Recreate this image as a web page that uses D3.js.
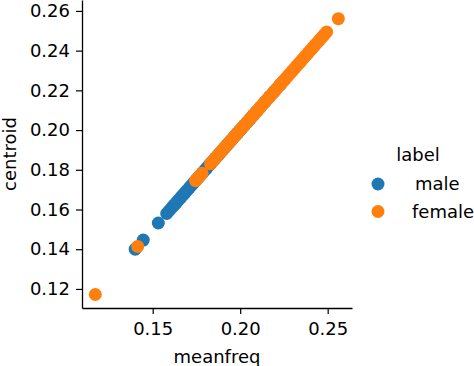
<!DOCTYPE html>
<html>
<head>
<meta charset="utf-8">
<script src="https://cdn.jsdelivr.net/npm/d3@7"></script>
<style>
  body { margin: 0; background: #fff; }
  text { font-family: "DejaVu Sans", sans-serif; fill: #000; }
  .tick text { font-size: 18px; }
  .axis-label { font-size: 18px; }
</style>
</head>
<body>
<div id="chart"></div>
<script>
// data: meanfreq / centroid per label (centroid equals meanfreq in this dataset)
const maleMeanfreq = [0.1400, 0.1446, 0.1532, 0.1580, 0.1595, 0.1610, 0.1622, 0.1635, 0.1648, 0.1660,
  0.1672, 0.1685, 0.1697, 0.1710, 0.1722, 0.1735, 0.1748, 0.1760, 0.1772, 0.1785, 0.1798, 0.1810,
  0.1823, 0.1835, 0.1848, 0.1860, 0.1873, 0.1885, 0.1898, 0.1910, 0.1923, 0.1935, 0.1948, 0.1960,
  0.1973, 0.1985, 0.1998, 0.2010, 0.2025, 0.2040, 0.2058, 0.2075, 0.2094, 0.2115, 0.2140, 0.2168,
  0.2195, 0.2230];
const maleCentroid = [0.1400, 0.1446, 0.1532, 0.1580, 0.1595, 0.1610, 0.1622, 0.1635, 0.1648, 0.1660,
  0.1672, 0.1685, 0.1697, 0.1710, 0.1722, 0.1735, 0.1748, 0.1760, 0.1772, 0.1785, 0.1798, 0.1810,
  0.1823, 0.1835, 0.1848, 0.1860, 0.1873, 0.1885, 0.1898, 0.1910, 0.1923, 0.1935, 0.1948, 0.1960,
  0.1973, 0.1985, 0.1998, 0.2010, 0.2025, 0.2040, 0.2058, 0.2075, 0.2094, 0.2115, 0.2140, 0.2168,
  0.2195, 0.2230];
const femaleMeanfreq = [0.1172, 0.1414, 0.1745, 0.1758, 0.1770, 0.1782, 0.1830, 0.1843, 0.1856, 0.1869,
  0.1882, 0.1895, 0.1908, 0.1921, 0.1934, 0.1947, 0.1960, 0.1973, 0.1986, 0.1999, 0.2012, 0.2025,
  0.2038, 0.2051, 0.2064, 0.2077, 0.2090, 0.2103, 0.2116, 0.2129, 0.2142, 0.2155, 0.2168, 0.2181,
  0.2194, 0.2207, 0.2220, 0.2233, 0.2246, 0.2259, 0.2272, 0.2285, 0.2298, 0.2311, 0.2324, 0.2337,
  0.2350, 0.2363, 0.2376, 0.2389, 0.2402, 0.2415, 0.2428, 0.2441, 0.2454, 0.2467, 0.2480, 0.2494,
  0.2561];
const femaleCentroid = [0.1172, 0.1414, 0.1745, 0.1758, 0.1770, 0.1782, 0.1830, 0.1843, 0.1856, 0.1869,
  0.1882, 0.1895, 0.1908, 0.1921, 0.1934, 0.1947, 0.1960, 0.1973, 0.1986, 0.1999, 0.2012, 0.2025,
  0.2038, 0.2051, 0.2064, 0.2077, 0.2090, 0.2103, 0.2116, 0.2129, 0.2142, 0.2155, 0.2168, 0.2181,
  0.2194, 0.2207, 0.2220, 0.2233, 0.2246, 0.2259, 0.2272, 0.2285, 0.2298, 0.2311, 0.2324, 0.2337,
  0.2350, 0.2363, 0.2376, 0.2389, 0.2402, 0.2415, 0.2428, 0.2441, 0.2454, 0.2467, 0.2480, 0.2494,
  0.2561];
const labels = ['male', 'female'];
const colors = ['#1f77b4', '#ff7f0e'];
const xTicks = [0.15, 0.20, 0.25];
const yTicks = [0.12, 0.14, 0.16, 0.18, 0.20, 0.22, 0.24, 0.26];

// chart static params
const width = 474, height = 366;
const margin = {top: 0, left: 82, right: 122, bottom: 58};
const plotW = width - margin.left - margin.right,
    plotH = height - margin.top - margin.bottom;
const r = 6.5;

const svg = d3.select('#chart')
  .append('svg')
    .attr('width', width)
    .attr('height', height)
  .append('g')
    .attr('transform', `translate(${margin.left},${margin.top})`);

const x = d3.scaleLinear().domain([0.1096, 0.2639]).range([0, plotW]);
const y = d3.scaleLinear().domain([0.1104, 0.2655]).range([plotH, 0]);

// points, male first so female draws on top
const groups = [
  {label: labels[0], xs: maleMeanfreq, ys: maleCentroid},
  {label: labels[1], xs: femaleMeanfreq, ys: femaleCentroid}
];
groups.forEach((g, i) => {
  svg.append('g')
    .selectAll('circle')
    .data(g.xs.map((v, j) => [v, g.ys[j]]))
    .join('circle')
      .attr('cx', d => x(d[0]))
      .attr('cy', d => y(d[1]))
      .attr('r', r)
      .attr('fill', colors[i]);
});

// axes (despined: left + bottom only)
const xAxis = svg.append('g')
  .attr('transform', `translate(0,${plotH})`)
  .call(d3.axisBottom(x).tickValues(xTicks).tickFormat(d3.format('.2f'))
    .tickSizeInner(6).tickSizeOuter(0).tickPadding(8));
const yAxis = svg.append('g')
  .call(d3.axisLeft(y).tickValues(yTicks).tickFormat(d3.format('.2f'))
    .tickSizeInner(6).tickSizeOuter(0).tickPadding(6));
[xAxis, yAxis].forEach(a => {
  a.select('.domain').attr('stroke', '#000').attr('stroke-width', 1.3);
  a.selectAll('.tick line').attr('stroke', '#000').attr('stroke-width', 1.2);
  a.selectAll('.tick text').attr('fill', '#000');
  a.attr('font-family', null).attr('font-size', null);
});

// axis labels
svg.append('text')
  .attr('class', 'axis-label')
  .attr('text-anchor', 'middle')
  .attr('x', plotW / 2)
  .attr('y', plotH + 55)
  .text('meanfreq');
svg.append('text')
  .attr('class', 'axis-label')
  .attr('text-anchor', 'middle')
  .attr('transform', `translate(${-66},${plotH / 2}) rotate(-90)`)
  .text('centroid');

// legend
const legend = svg.append('g')
  .attr('transform', `translate(${378 - margin.left},0)`);
legend.append('text')
  .attr('class', 'axis-label')
  .attr('text-anchor', 'middle')
  .attr('x', 40)
  .attr('y', 161)
  .text('label');
labels.forEach((l, i) => {
  const yy = 184 + i * 27.5;
  legend.append('circle')
    .attr('cx', 0).attr('cy', yy).attr('r', r)
    .attr('fill', colors[i]);
  legend.append('text')
    .attr('class', 'axis-label')
    .attr('x', i === 0 ? 37 : 34)
    .attr('y', yy + 6)
    .text(l);
});
</script>
</body>
</html>
